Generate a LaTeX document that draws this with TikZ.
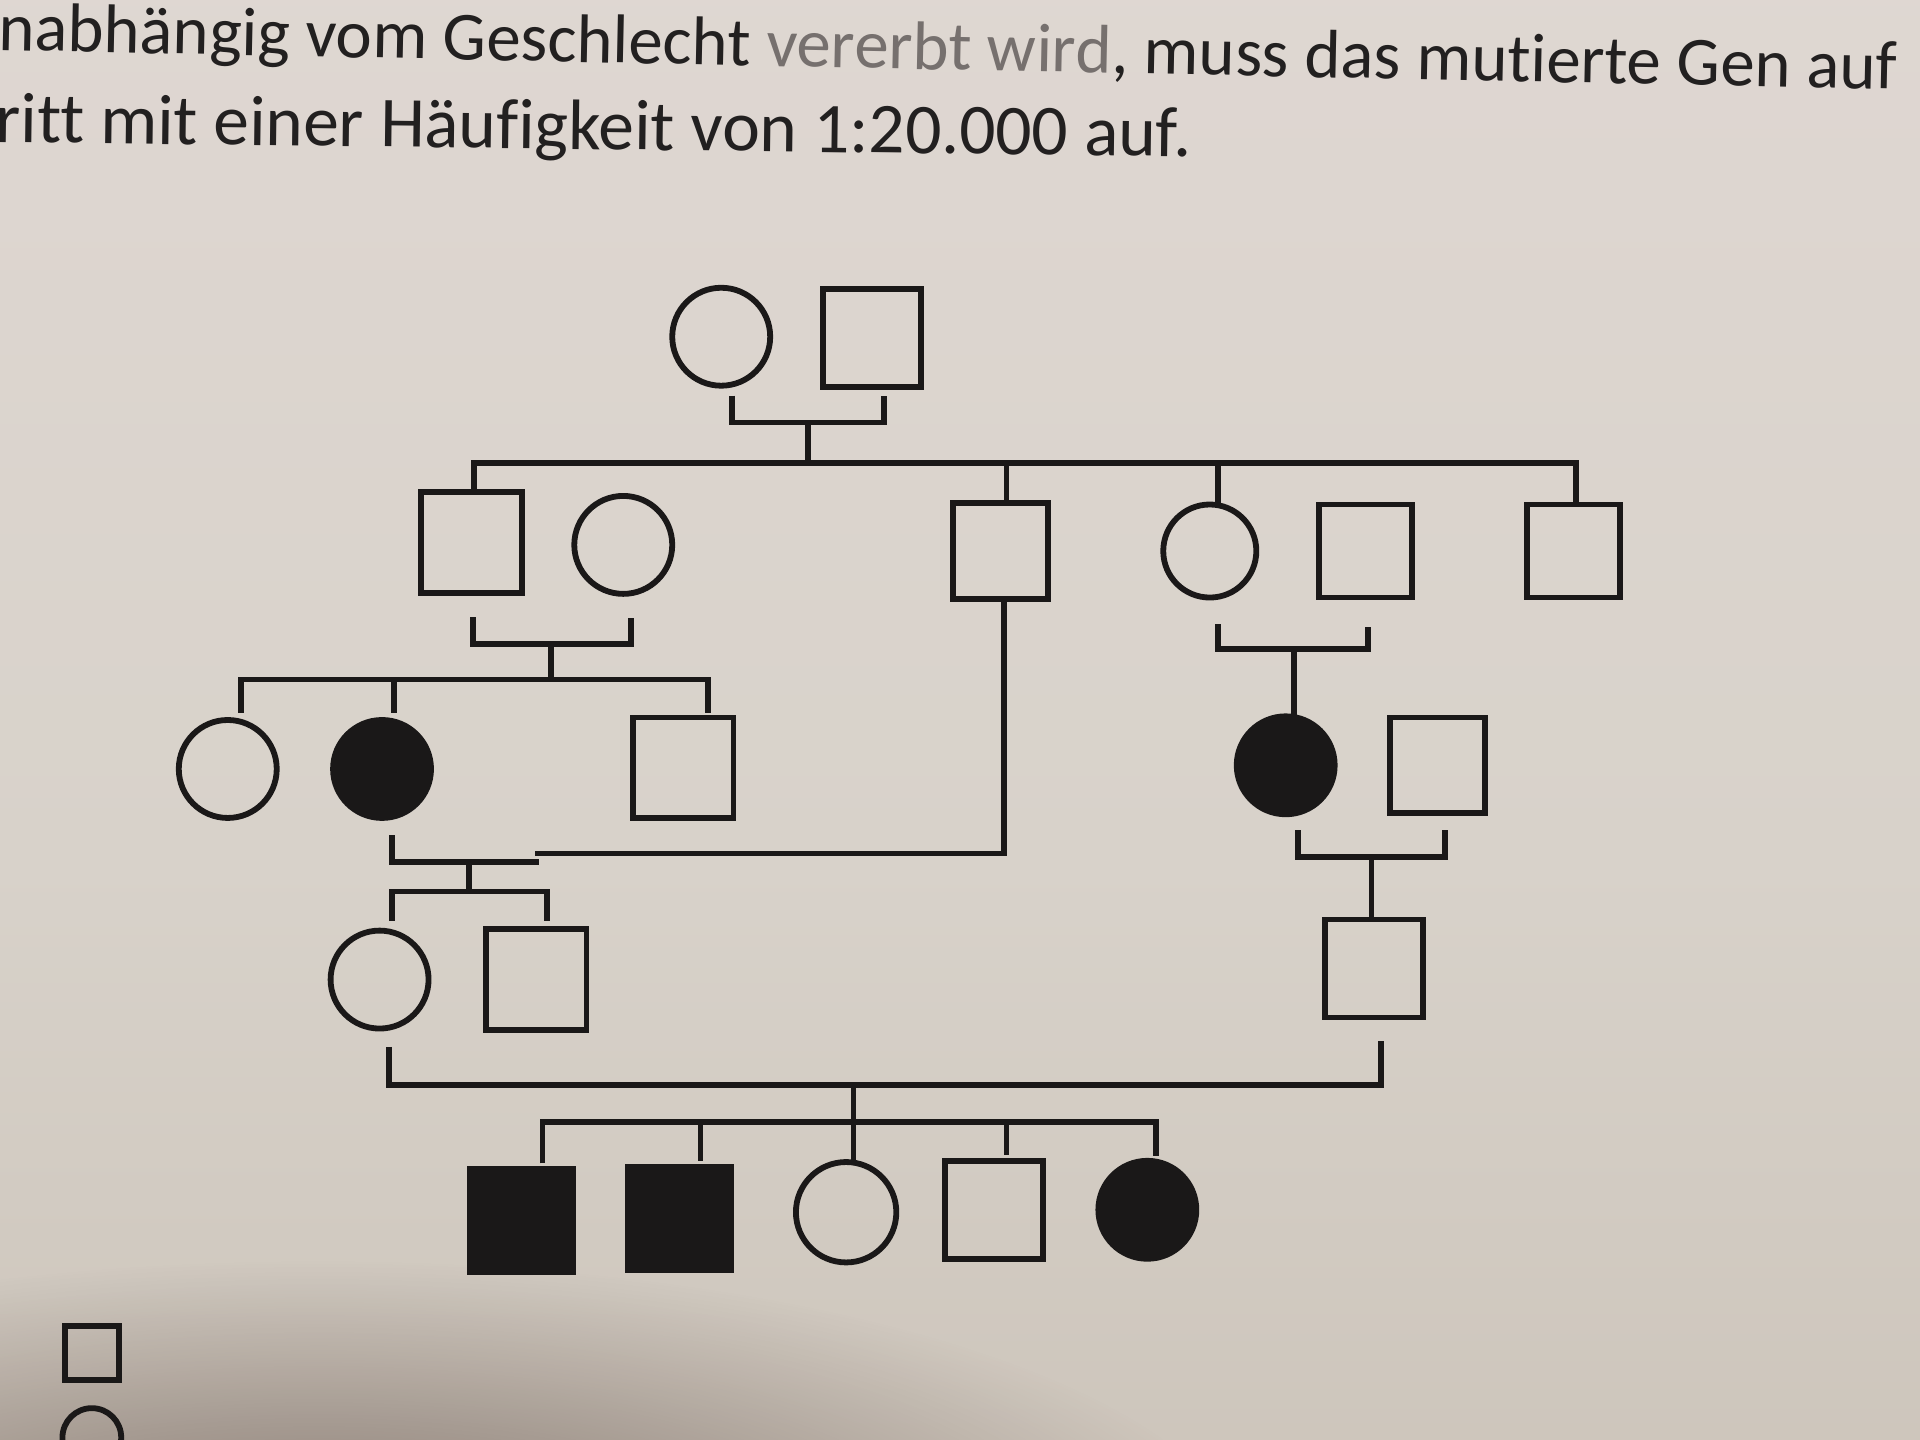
\documentclass[tikz,border=0pt]{standalone}
\usepackage{fontspec}
\setmainfont{Carlito}[Ligatures=CommonOff]
\usetikzlibrary{calc,fadings}
\definecolor{ink}{RGB}{26,24,24}
\definecolor{txt}{RGB}{34,32,32}
\definecolor{faded}{RGB}{118,112,110}
\definecolor{ptop}{RGB}{228,219,216}
\definecolor{pmid}{RGB}{216,210,202}
\definecolor{plow}{RGB}{204,196,186}
\definecolor{pdark}{RGB}{160,146,136}
\definecolor{pbot}{RGB}{100,80,70}
\definecolor{shadowc}{RGB}{80,62,55}
\pgfdeclareverticalshading{paper}{100bp}{color(0bp)=(pbot); color(8bp)=(pdark); color(22bp)=(plow); color(45bp)=(pmid); color(100bp)=(ptop)}
\tikzfading[name=blob, inner color=transparent!0, outer color=transparent!100]
\begin{document}
\begin{tikzpicture}[x=0.01cm,y=-0.01cm,
  ln/.style={draw=ink, line width=1.35pt, line join=miter},
  sym/.style={draw=ink, line width=1.35pt, inner sep=0pt, outer sep=0pt},
  fem/.style={sym, circle, minimum size=#1*0.01cm},
  mal/.style={sym, rectangle, minimum size=#1*0.01cm},
  aff/.style={fill=ink},
  txtline/.style={anchor=base west, inner sep=0pt, text=txt}]
\useasboundingbox (0,0) rectangle (1568,1176);
\shade[shading=paper] (0,0) rectangle (1568,1176);
\begin{scope}
\clip (0,0) rectangle (1568,1176);
\fill[shadowc, fill opacity=0.6, path fading=blob] (260,1280) ellipse (760 and 250);
\end{scope}

% header text
\node[txtline, rotate=-1.18, font=\fontsize{16.0}{19}\selectfont] (t1) at (-2,41) {nabhängig vom Geschlecht {\color{faded}vererbt wird}, muss das mutierte Gen auf};
\node[txtline, rotate=-0.7, font=\fontsize{16.6}{19}\selectfont] (t2) at (-4,116) {ritt mit einer Häufigkeit von 1:20.000 auf.};

% Generation I
\node[fem=80] (I1) at (589,275) {};
\node[mal=80] (I2) at (712,276) {};
\coordinate (mI) at (660,345);
\coordinate (sII) at (660,378);
\draw[ln] ($(I1.south)+(9,8)$) |- (mI) -| ($(I2.south)+(10,7)$);
\draw[ln] (mI) -- (sII);

% Generation II
\node[mal=82] (II1) at (385,443) {};
\node[fem=80] (II2) at (509,445) {};
\node[mal=78] (II3) at (817,450) {};
\node[fem=76] (II4) at (988,450) {};
\node[mal=76] (II5) at (1115,450) {};
\node[mal=76] (II6) at (1285,450) {};
\draw[ln] ($(II1.north)+(2,0)$) |- (sII) -| ($(II6.north)+(2,0)$);
\coordinate (d23) at ($(II3.north)+(5,0)$);
\draw[ln] (d23) -- (d23 |- sII);
\coordinate (d24) at ($(II4.north)+(7,1)$);
\draw[ln] (d24) -- (d24 |- sII);

% couple II1 x II2
\coordinate (mII) at (450,526);
\coordinate (sIIIa) at (450,555);
\draw[ln] ($(II1.south)+(1,20)$) |- (mII) -| ($(II2.south)+(6,20)$);
\draw[ln] (mII) -- (sIIIa);

% Generation III left
\node[fem=80] (III1) at (186,628) {};
\node[fem=80, aff] (III2) at (312,628) {};
\node[mal=82] (III3) at (558,627) {};
\draw[ln] ($(III1.north)+(11,-6)$) |- (sIIIa) -| ($(III3.north)+(20,-4)$);
\coordinate (d32) at ($(III2.north)+(10,-6)$);
\draw[ln] (d32) -- (d32 |- sIIIa);

% couple II4 x II5
\coordinate (mII2) at (1057,530);
\draw[ln] ($(II4.south)+(7,22)$) |- (mII2) -| ($(II5.south)+(2,24)$);
\node[fem=80, aff] (III4) at (1050,625) {};
\node[mal=78] (III5) at (1174,625) {};
\draw[ln] (mII2) -- (III4.north -| mII2);

% couple III4 x III5
\coordinate (mIII) at (1120,700);
\draw[ln] ($(III4.south)+(10,13)$) |- (mIII) -| ($(III5.south)+(6,14)$);
\node[mal=80] (IV3) at (1122,791) {};
\draw[ln] (mIII) -- (IV3.north -| mIII);

% couple III2 x II3
\coordinate (mIIIb) at (383,704);
\coordinate (jn) at (440,704);
\coordinate (jn2) at (437,697);
\coordinate (sIV) at (383,728);
\draw[ln] ($(III2.south)+(8,14)$) |- (jn);
\coordinate (c3) at ($(II3.south)+(3,0)$);
\draw[ln] (c3) |- (jn2);
\draw[ln] (mIIIb) -- (sIV);

% Generation IV
\node[fem=80] (IV1) at (310,800) {};
\node[mal=82] (IV2) at (438,800) {};
\draw[ln] ($(IV1.north)+(10,-8)$) |- (sIV) -| ($(IV2.north)+(9,-7)$);

% couple IV1 x IV3
\coordinate (mIV) at (697,886);
\coordinate (sV) at (697,916);
\draw[ln] ($(IV1.south)+(8,15)$) |- (mIV) -| ($(IV3.south)+(6,19)$);

% Generation V
\node[mal=84, aff] (V1) at (426,997) {};
\node[mal=84, aff] (V2) at (555,995) {};
\node[fem=82] (V3) at (691,990) {};
\node[mal=80] (V4) at (812,988) {};
\node[fem=80, aff] (V5) at (937,988) {};
\draw[ln] (mIV) -- (V3.north -| mIV);
\draw[ln] ($(V1.north)+(17,-5)$) |- (sV) -| ($(V5.north)+(7,-4)$);
\coordinate (d52) at ($(V2.north)+(17,-5)$);
\draw[ln] (d52) -- (d52 |- sV);
\coordinate (d54) at ($(V4.north)+(10,-5)$);
\draw[ln] (d54) -- (d54 |- sV);

% legend (cut off)
\node[mal=44] (L1) at (75,1105) {};
\node[fem=48] (L2) at (75,1174) {};
\end{tikzpicture}
\end{document}
